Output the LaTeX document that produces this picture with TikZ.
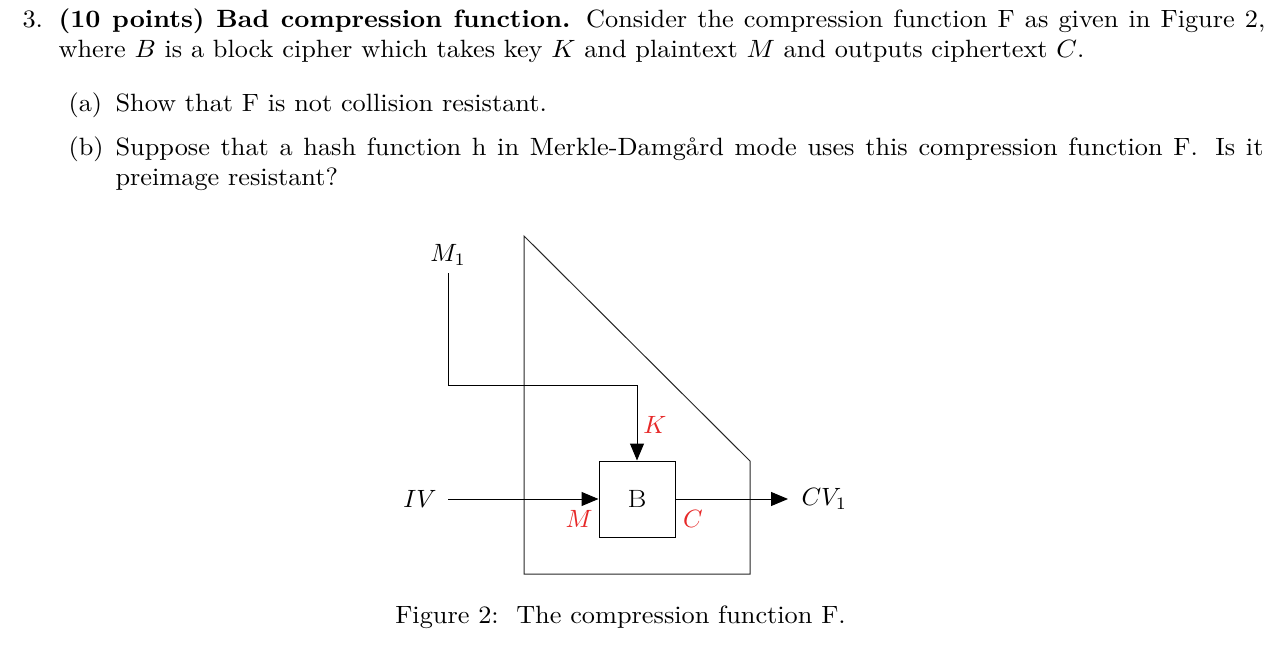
\documentclass[tikz,border=0pt]{standalone}
\usetikzlibrary{arrows.meta}
\definecolor{lblred}{RGB}{230,40,40}
\begin{document}
\begin{tikzpicture}[x=1pt,y=-1pt,
  txt/.style={anchor=base west,inner sep=0pt,xscale=2.63,yscale=2.5,font=\fontsize{10}{12}\selectfont},
  lbl/.style={inner sep=0pt,scale=2.5,font=\fontsize{10}{12}\selectfont},
  red lbl/.style={lbl,text=lblred},
  wire/.style={line width=1pt},
  arr/.style={wire,-{Triangle[length=17pt,width=14pt]}},
  frame/.style={line width=1pt,black!85}]
\useasboundingbox (0,0) rectangle (1284,658);
% question text
\node[txt] (n3) at (22,28) {3.};
\node[txt] (l1) at (58,28) {\makebox[458.9pt][s]{\textbf{(10 points) Bad compression function.} Consider the compression function $\mathrm{F}$ as given in Figure 2,}};
\node[txt] (l2) at (58,58) {where $B$ is a block cipher which takes key $K$ and plaintext $M$ and outputs ciphertext $C$.};
\node[txt] (la) at (68,112) {(a)};
\node[txt] (ta) at (115,112) {Show that $\mathrm{F}$ is not collision resistant.};
\node[txt] (lb) at (68,155) {(b)};
\node[txt] (tb1) at (115,155) {\makebox[436.5pt][s]{Suppose that a hash function h in Merkle-Damg\aa rd mode uses this compression function $\mathrm{F}$. Is it}};
\node[txt] (tb2) at (115,185) {preimage resistant?};
% diagram
\draw[frame] (524,236) -- (524,574) -- (750,574) -- (750,461) -- cycle;
\node[draw,line width=1pt,minimum size=76pt,inner sep=0pt,font=\fontsize{25}{30}\selectfont] (B) at (637,499) {\scalebox{1.15}[1]{B}};
\node[lbl] (M1) at (448,255) {$M_1$};
\node[lbl] (IV) at (420,499) {$IV$};
\node[lbl,anchor=west] (CV) at (801,499) {$CV_1$};
\node[red lbl] (K) at (655,425) {$K$};
\node[red lbl] (Mr) at (579,519) {$M$};
\node[red lbl] (Cr) at (693,519) {$C$};
\coordinate (m1s) at (448,273);
\coordinate (bend) at (637,385);
\coordinate (ivs) at (448,499);
\coordinate (cvs) at (788,499);
\draw[wire] (m1s) |- (bend);
\draw[arr] (bend) -- (B.north);
\draw[arr] (ivs) -- (B.west);
\draw[arr] (B.east) -- (cvs);
% caption
\node[txt,anchor=base] (cap) at (620.5,623) {Figure 2:\ \ The compression function $\mathrm{F}$.};
\end{tikzpicture}
\end{document}
